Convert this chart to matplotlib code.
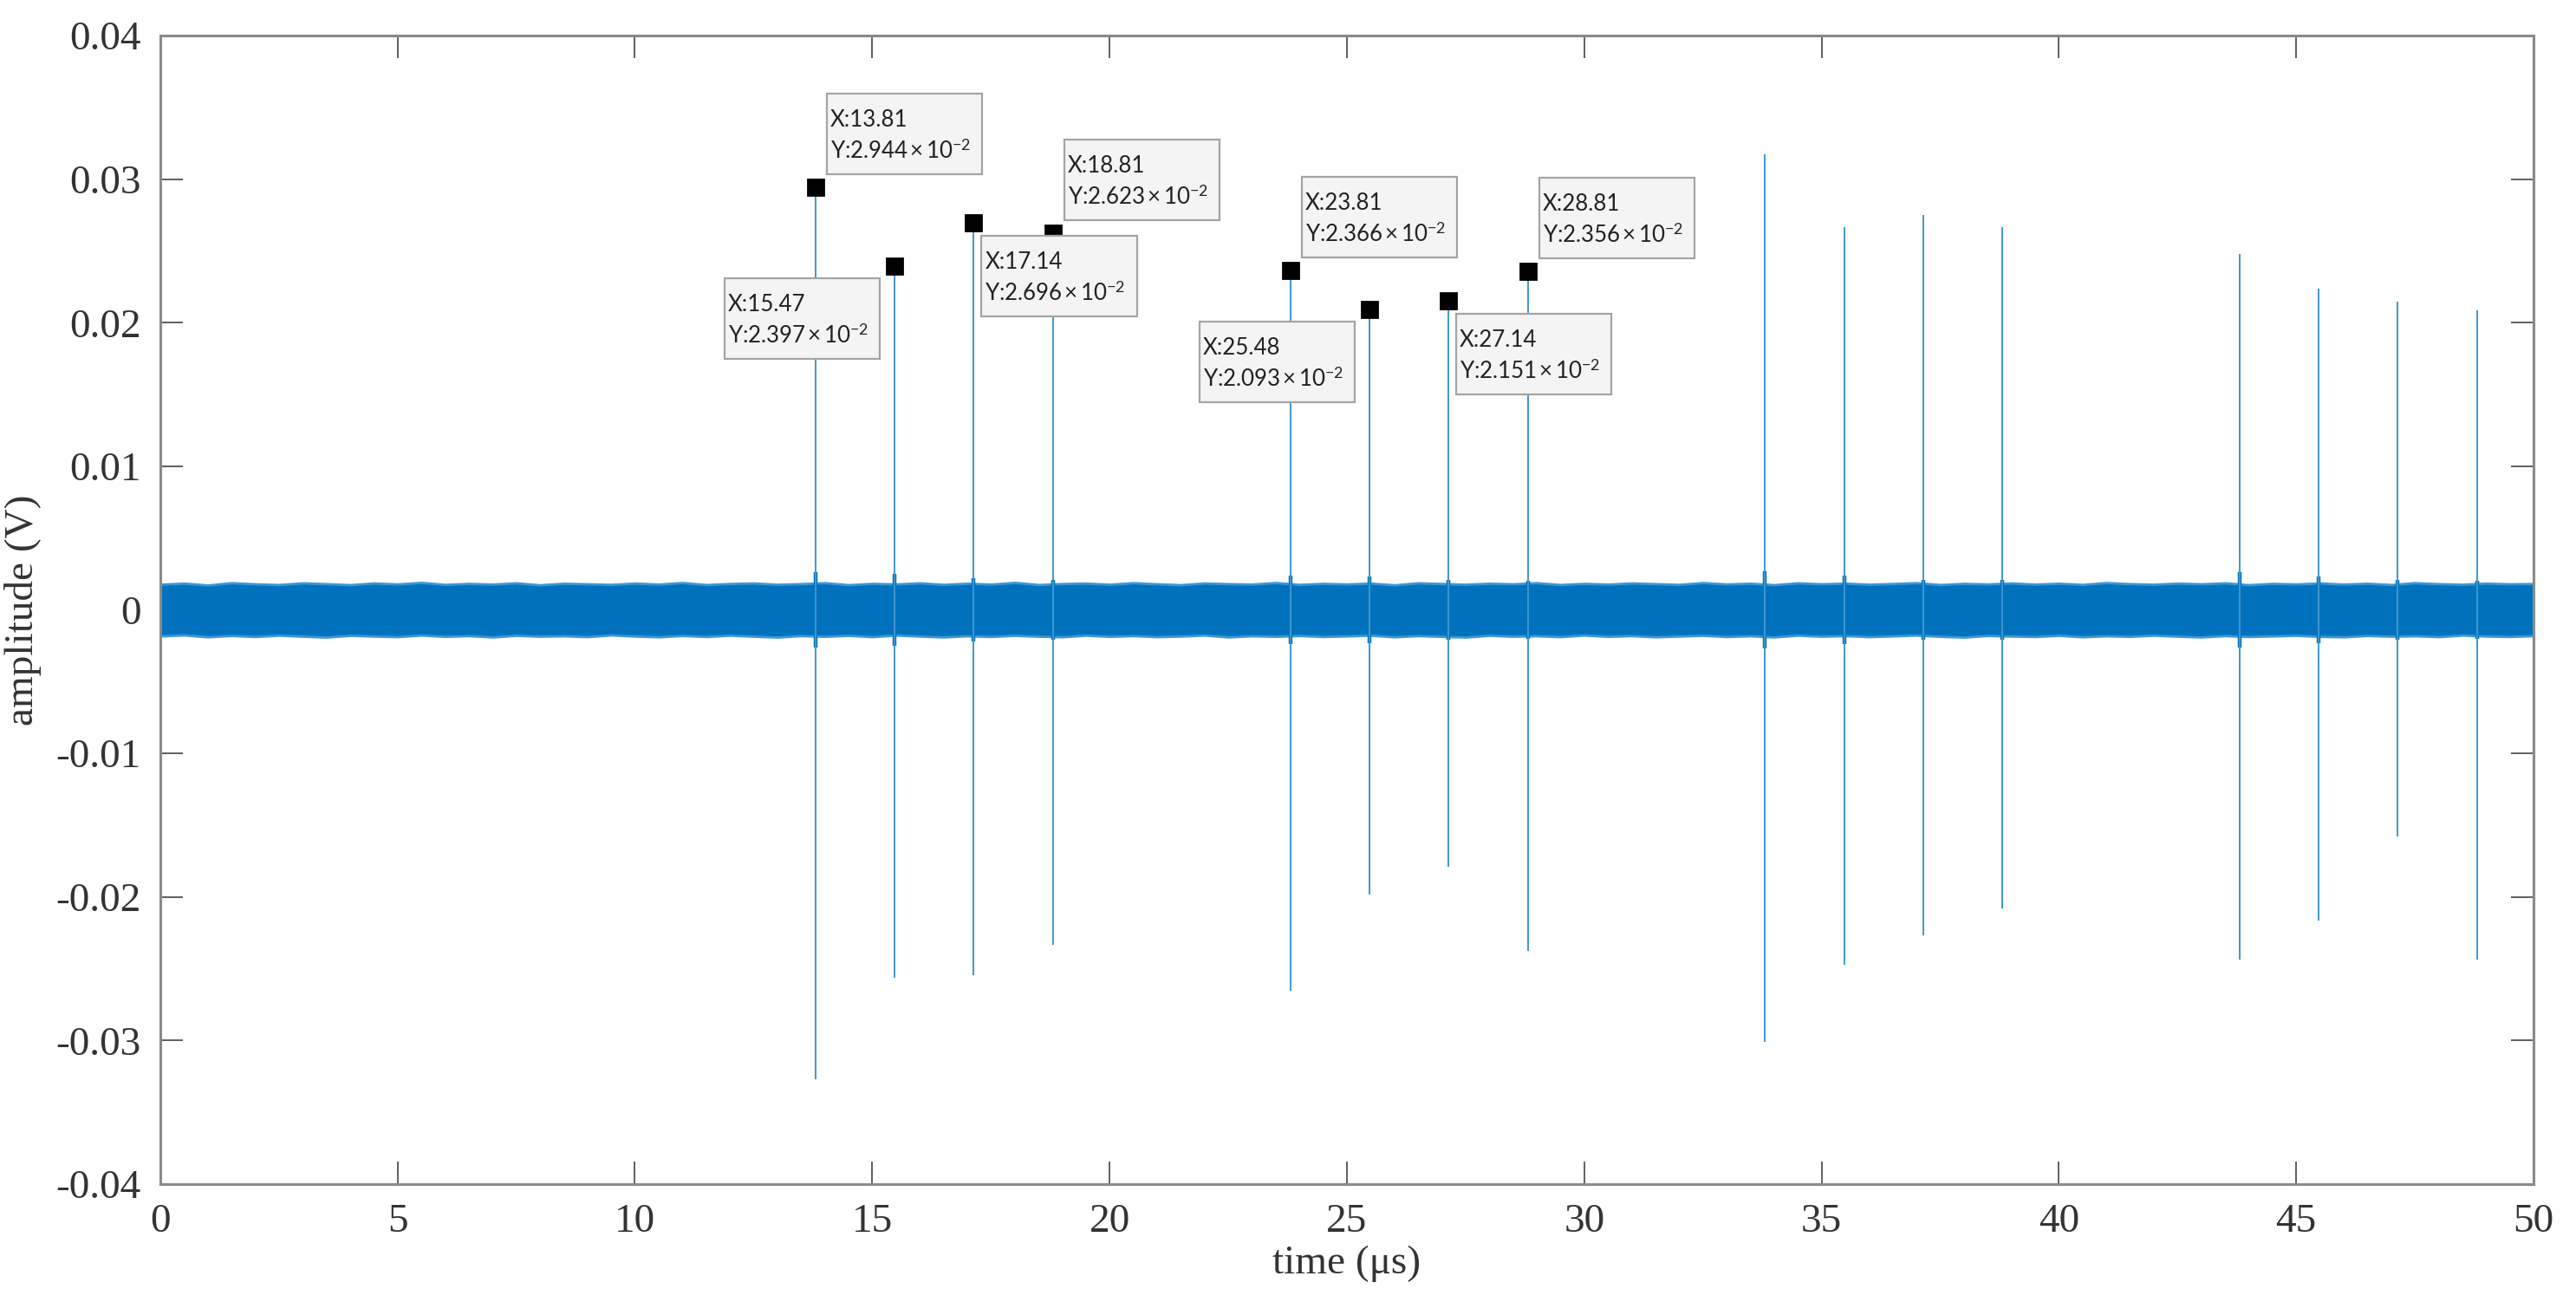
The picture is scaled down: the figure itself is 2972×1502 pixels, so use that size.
import numpy as np
import matplotlib.pyplot as plt
from matplotlib.patches import Rectangle
from matplotlib.transforms import IdentityTransform

# -------------------------
# DATA
# -------------------------
# spike times (us) and peak amplitudes (V)
spike_t = [13.81, 15.47, 17.14, 18.81, 23.81, 25.48, 27.14, 28.81,
           33.81, 35.48, 37.14, 38.81, 43.81, 45.48, 47.14, 48.81]
spike_pos = [0.02944, 0.02397, 0.02696, 0.02623, 0.02366, 0.02093, 0.02151, 0.02356,
             0.03173, 0.02668, 0.02752, 0.02665, 0.02479, 0.02237, 0.02147, 0.02086]
spike_neg = [-0.0327, -0.02564, -0.02546, -0.02334, -0.02655, -0.01982, -0.0179, -0.02374,
             -0.03008, -0.02474, -0.02268, -0.0208, -0.02435, -0.02163, -0.01579, -0.02435]
# small widening of the noise band right at each spike
ring_amp = [0.0026, 0.0025, 0.0022, 0.0021, 0.0024, 0.0023, 0.0021, 0.0020,
            0.0027, 0.0024, 0.0021, 0.0021, 0.0026, 0.0023, 0.0021, 0.0020]

# noise band envelope, sampled every 0.5 us from 0 to 50
noise_upper = [0.00178, 0.00186, 0.00173, 0.00189, 0.00181, 0.00176, 0.00188, 0.00182, 0.00175, 0.00187,
               0.00180, 0.00191, 0.00177, 0.00184, 0.00179, 0.00188, 0.00174, 0.00185, 0.00181, 0.00177,
               0.00186, 0.00179, 0.00190, 0.00176, 0.00183, 0.00187, 0.00178, 0.00182, 0.00189, 0.00175,
               0.00184, 0.00180, 0.00188, 0.00177, 0.00185, 0.00179, 0.00191, 0.00176, 0.00183, 0.00186,
               0.00178, 0.00189, 0.00181, 0.00175, 0.00187, 0.00182, 0.00179, 0.00190, 0.00177, 0.00184,
               0.00180, 0.00186, 0.00174, 0.00188, 0.00183, 0.00178, 0.00185, 0.00181, 0.00189, 0.00176,
               0.00184, 0.00179, 0.00187, 0.00182, 0.00177, 0.00190, 0.00180, 0.00185, 0.00175, 0.00188,
               0.00181, 0.00186, 0.00178, 0.00183, 0.00189, 0.00176, 0.00184, 0.00180, 0.00187, 0.00179,
               0.00185, 0.00177, 0.00190, 0.00182, 0.00178, 0.00186, 0.00181, 0.00188, 0.00175, 0.00184,
               0.00180, 0.00187, 0.00179, 0.00185, 0.00176, 0.00189, 0.00182, 0.00178, 0.00186, 0.00181,
               0.00183]
noise_lower = [-0.00182, -0.00175, -0.00188, -0.00179, -0.00186, -0.00177, -0.00184, -0.00190, -0.00178, -0.00183,
               -0.00187, -0.00176, -0.00185, -0.00180, -0.00189, -0.00178, -0.00184, -0.00181, -0.00187, -0.00175,
               -0.00183, -0.00188, -0.00179, -0.00186, -0.00177, -0.00184, -0.00190, -0.00180, -0.00185, -0.00178,
               -0.00187, -0.00176, -0.00183, -0.00189, -0.00181, -0.00186, -0.00178, -0.00184, -0.00188, -0.00177,
               -0.00185, -0.00180, -0.00187, -0.00183, -0.00176, -0.00189, -0.00181, -0.00185, -0.00179, -0.00186,
               -0.00182, -0.00177, -0.00188, -0.00180, -0.00185, -0.00190, -0.00178, -0.00184, -0.00181, -0.00187,
               -0.00176, -0.00185, -0.00180, -0.00188, -0.00183, -0.00178, -0.00186, -0.00181, -0.00189, -0.00177,
               -0.00184, -0.00180, -0.00187, -0.00182, -0.00176, -0.00185, -0.00190, -0.00179, -0.00183, -0.00186,
               -0.00178, -0.00188, -0.00181, -0.00185, -0.00177, -0.00184, -0.00189, -0.00180, -0.00186, -0.00182,
               -0.00178, -0.00185, -0.00188, -0.00179, -0.00184, -0.00181, -0.00187, -0.00176, -0.00183, -0.00186,
               -0.00180]
noise_t = np.linspace(0, 50, len(noise_upper))

# data tips: x, y, label text, corner of the box relative to the marker
tip_x = [13.81, 15.47, 17.14, 18.81, 23.81, 25.48, 27.14, 28.81]
tip_y = [0.02944, 0.02397, 0.02696, 0.02623, 0.02366, 0.02093, 0.02151, 0.02356]
tip_y_txt = ['2.944', '2.397', '2.696', '2.623', '2.366', '2.093', '2.151', '2.356']
tip_side = ['ur', 'll', 'lr', 'ur', 'ur', 'll', 'lr', 'ur']

x_ticks = [0, 5, 10, 15, 20, 25, 30, 35, 40, 45, 50]
y_ticks = [-0.04, -0.03, -0.02, -0.01, 0, 0.01, 0.02, 0.03, 0.04]
y_ticklabels = ['-0.04', '-0.03', '-0.02', '-0.01', '0', '0.01', '0.02', '0.03', '0.04']

# -------------------------
# STYLE
# -------------------------
plt.rcParams['font.family'] = ['Liberation Serif', 'DejaVu Serif']
plt.rcParams['mathtext.fontset'] = 'custom'
plt.rcParams['mathtext.rm'] = 'Lato'
plt.rcParams['mathtext.it'] = 'Lato:italic'

band_col = '#0072BD'
spike_col = '#3f97d0'
axis_col = '#8a8a8a'
text_col = '#333333'

fig = plt.figure(figsize=(14.86, 7.51), dpi=200)
ax = fig.add_axes([0.0622, 0.0905, 0.9213, 0.8822])

# noise band (thin lighter outline gives the ragged edge)
ax.fill_between(noise_t, noise_lower, noise_upper, color=band_col, lw=1.0, edgecolor='#3d98d6', zorder=2)
ax.vlines(spike_t, [-a for a in ring_amp], ring_amp, color=band_col, lw=1.6, zorder=2)

# spikes
ax.vlines(spike_t, spike_neg, spike_pos, color=spike_col, lw=0.7, zorder=3)

# data tip markers
ax.plot(tip_x, tip_y, ls='none', marker='s', ms=6.8, color='black', zorder=4)

# axes
ax.set_xlim(0, 50)
ax.set_ylim(-0.04, 0.04)
ax.set_xticks(x_ticks)
ax.set_yticks(y_ticks)
ax.set_yticklabels(y_ticklabels)
ax.tick_params(direction='in', length=9.5, width=0.6, color='#444444', labelsize=17,
               labelcolor=text_col, top=True, right=True, pad=8)
for s in ax.spines.values():
    s.set_color(axis_col)
    s.set_linewidth(1.1)

ax.set_xlabel('time (\u03bcs)', fontsize=17, color=text_col, labelpad=2)
ax.set_ylabel('amplitude (V)', fontsize=17, color=text_col, labelpad=6)

# data tip boxes (padding in pixels: left, right, top, bottom)
padL, padR, padT, padB = 4, 13, 18, 13
gap = {'ur': ((13, 15), 'left', 'bottom'),
       'll': ((-17, -14), 'right', 'top'),
       'lr': ((9, -15), 'left', 'top')}
tips = []
for x, y, ytxt, side in zip(tip_x, tip_y, tip_y_txt, tip_side):
    (gx, gy), ha, va = gap[side]
    dx = gx + padL if ha == 'left' else gx - padR
    dy = gy + padB if va == 'bottom' else gy - padT
    label = 'X:%.2f\nY:%s\u2009\u00d7\u200910$^{-2}$' % (x, ytxt)
    t = ax.annotate(label, xy=(x, y), xytext=(dx, dy), textcoords='offset pixels',
                    ha=ha, va=va, multialignment='left', fontsize=9.3,
                    family=['Lato', 'DejaVu Sans'], color='#222222',
                    linespacing=1.45, zorder=7)
    tips.append(t)

fig.canvas.draw()
renderer = fig.canvas.get_renderer()
for t in tips:
    bb = t.get_window_extent(renderer)
    box = Rectangle((bb.x0 - padL, bb.y0 - padB), bb.width + padL + padR, bb.height + padT + padB,
                    transform=IdentityTransform(), fc='#f4f4f4', ec='#a4a4a4', lw=0.8, zorder=6)
    ax.add_patch(box)

fig.savefig('out.png', dpi=200, facecolor='white')
